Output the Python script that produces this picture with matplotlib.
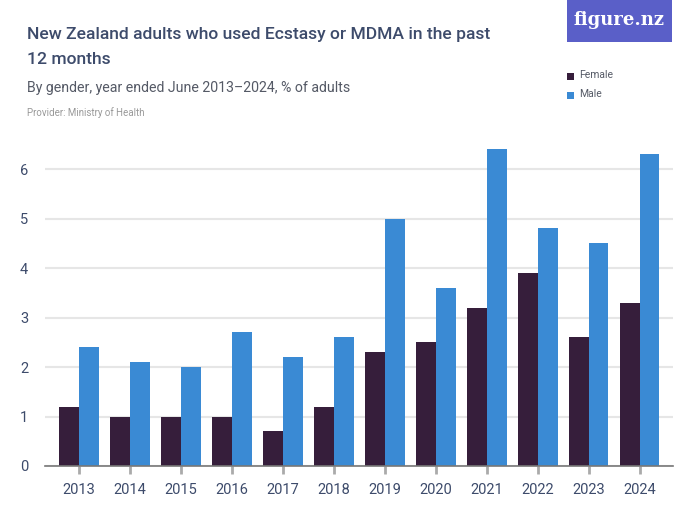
import matplotlib
matplotlib.use("Agg")
import matplotlib.pyplot as plt
import numpy as np
from matplotlib.patches import Rectangle

years = ["2013", "2014", "2015", "2016", "2017", "2018", "2019", "2020", "2021", "2022", "2023", "2024"]
female = [1.2, 1.0, 1.0, 1.0, 0.7, 1.2, 2.3, 2.5, 3.2, 3.9, 2.6, 3.3]
male = [2.4, 2.1, 2.0, 2.7, 2.2, 2.6, 5.0, 3.6, 6.4, 4.8, 4.5, 6.3]
yticks = [0, 1, 2, 3, 4, 5, 6]

FEM_C = "#361e3b"
MALE_C = "#3a8ad4"
TEXT_C = "#3d4b6b"

plt.rcParams['font.family'] = ['Roboto', 'DejaVu Sans']

fig = plt.figure(figsize=(7, 5.25), dpi=100)
ax = fig.add_axes([0.064, 0.1124, 0.897, 0.6126])

x = np.arange(len(years))
w = 0.39
ax.bar(x - w/2, female, width=w, color=FEM_C, zorder=3)
ax.bar(x + w/2, male, width=w, color=MALE_C, zorder=3)

ax.set_xlim(-0.67, 11.65)
ax.set_ylim(0, 6.5)
ax.set_yticks(yticks)
ax.set_yticklabels([str(t) for t in yticks])
ax.set_xticks(x)
ax.set_xticklabels(years)
ax.grid(axis='y', color='#e6e6e6', linewidth=1.5, zorder=0)
for s in ['top', 'right', 'left']:
    ax.spines[s].set_visible(False)
ax.spines['bottom'].set_color('#777777')
ax.spines['bottom'].set_linewidth(1.2)
ax.spines['bottom'].set_zorder(4)
ax.tick_params(axis='x', length=6, width=2, color='#aaaaaa', labelcolor=TEXT_C, labelsize=10.5, pad=6)
ax.tick_params(axis='y', length=0, labelsize=10.5, labelcolor=TEXT_C, pad=12)

fig.text(27/700, 1 - 35/525, "New Zealand adults who used Ecstasy or MDMA in the past",
         fontsize=12.6, fontweight='medium', color=TEXT_C, va='center', ha='left')
fig.text(27/700, 1 - 60/525, "12 months", fontsize=12.6, fontweight='medium', color=TEXT_C, va='center', ha='left')
fig.text(27/700, 1 - 88/525, "By gender, year ended June 2013\u20132024, % of adults",
         fontsize=10.2, color='#555a66', va='center', ha='left')
fig.text(27/700, 1 - 113/525, "Provider: Ministry of Health",
         fontsize=7, color='#999999', va='center', ha='left')

# logo
fig.patches.append(Rectangle((567/700, 1 - 42/525), 105/700, 42/525, transform=fig.transFigure,
                             facecolor='#5a5fc8', edgecolor='none'))
fig.text(619/700, 1 - 20/525, "figure.nz", fontsize=13, color='white', fontweight='bold',
         family=['DejaVu Serif'], ha='center', va='center')

# legend
for i, (lab, c) in enumerate([("Female", FEM_C), ("Male", MALE_C)]):
    yy = 1 - (76 + 19*i)/525
    fig.patches.append(Rectangle((567/700, yy - 3.5/525), 7/700, 7/525, transform=fig.transFigure,
                                 facecolor=c, edgecolor='none'))
    fig.text(579/700, yy + 1/525, lab, fontsize=7.5, color='#555a66', va='center', ha='left')

fig.savefig("out.png", dpi=100)
